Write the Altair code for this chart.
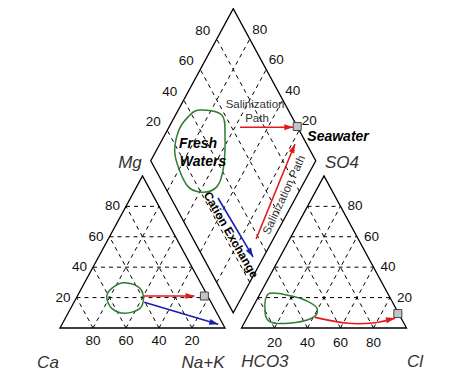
import math
import altair as alt
import pandas as pd

S = math.sqrt(3) / 2
GAP = 10

# grid levels / tick labels (percent)
levels = [20, 40, 60, 80]

# Fresh-water fields
cat_loop_nak = [18.0, 18.3, 23.5, 33.9, 40.2, 42.0, 34.5, 24.9]
cat_loop_mg = [20.6, 26.1, 29.8, 27.1, 20.6, 12.9, 9.7, 12.9]
an_loop_cl = [5.1, 19.9, 31.8, 39.8, 39.3, 26.8, 15.2, 8.9]
an_loop_so4 = [22.4, 21.0, 17.3, 12.3, 6.4, 3.1, 4.1, 10.7]
dia_loop_p = [46.5, 58.0, 53.4, 41.5, 31.4, 20.5, 13.8, 16.6, 26.3, 37.3]
dia_loop_q = [86.9, 72.0, 63.4, 53.5, 51.4, 58.8, 70.2, 87.2, 92.9, 91.7]

# Seawater
sea_nak, sea_mg = 77, 21
sea_cl, sea_so4 = 90, 9.5
sea_p, sea_q = 100, 22.5

# Arrows (start, end) in each sub-plot's own percentages
cat_red = [(40, 21), (71, 21)]
cat_blue = [(42.6, 16.9), (94.7, 2.4)]
dia_red_h = [(65.1, 56.9), (97.4, 24.6)]
dia_red_d = [(38.1, 10.4), (92.9, 18.1)]
dia_blue = [(28.5, 47.0), (30.4, 6.4)]
an_curve_cl = [41.0, 63.0, 79.2, 89.8]
an_curve_so4 = [7.0, 3.1, 3.5, 6.4]


def cat(nak, mg):
    return (nak + mg / 2, mg * S)


def an(cl, so4):
    return (100 + GAP + cl + so4 / 2, so4 * S)


def dia(p, q):
    return (100 + GAP / 2 + (p - q) / 2, GAP * S + (p + q) * S)


W, H = 458, 364
XD = [-31.52, 246.06]
YD = [-25.06, 182.23]
KX = W / (XD[1] - XD[0])
KY = H / (YD[1] - YD[0])
xs = alt.Scale(domain=XD, nice=False, zero=False)
ys = alt.Scale(domain=YD, nice=False, zero=False)


def enc(**extra):
    d = dict(x=alt.X("x:Q", scale=xs, axis=None), y=alt.Y("y:Q", scale=ys, axis=None))
    d.update(extra)
    return d


FONT = "Liberation Sans"

# ---- outlines ----
rows = []
polys = {
    "L": [cat(0, 0), cat(100, 0), cat(0, 100)],
    "R": [an(0, 0), an(100, 0), an(0, 100)],
    "D": [dia(0, 0), dia(100, 0), dia(100, 100), dia(0, 100)],
}
for k, pts in polys.items():
    for i, (x, y) in enumerate(pts):
        rows.append(dict(poly=k, i=i, x=x, y=y))
outline = alt.Chart(pd.DataFrame(rows)).mark_line(
    interpolate="linear-closed", color="black", strokeWidth=1.3, strokeJoin="miter"
).encode(**enc(detail="poly:N", order="i:Q"))

# ---- dashed grid ----
seg = []
for v in levels:
    for a, b in [
        (cat(0, v), cat(100 - v, v)),
        (cat(v, 0), cat(v, 100 - v)),
        (cat(100 - v, 0), cat(0, 100 - v)),
        (an(0, v), an(100 - v, v)),
        (an(v, 0), an(v, 100 - v)),
        (an(100 - v, 0), an(0, 100 - v)),
        (dia(v, 0), dia(v, 100)),
        (dia(0, v), dia(100, v)),
    ]:
        seg.append(dict(x=a[0], y=a[1], x2=b[0], y2=b[1]))
grid = alt.Chart(pd.DataFrame(seg)).mark_rule(
    color="black", strokeWidth=1, strokeDash=[4, 4]
).encode(**enc(x2="x2:Q", y2="y2:Q"))


# ---- tick labels ----
def lab(pts, texts, **kw):
    df = pd.DataFrame([dict(x=p[0], y=p[1], t=t) for p, t in zip(pts, texts)])
    return alt.Chart(df).mark_text(font=FONT, fontSize=13.5, color="#111", baseline="middle", **kw).encode(
        **enc(text="t:N")
    )


tl = [str(v) for v in levels]
labels = [
    lab([cat(0, v) for v in levels], tl, align="right", dx=-6),
    lab([cat(v, 0) for v in levels], [str(100 - v) for v in levels], align="center", dy=13),
    lab([an(100 - v, v) for v in levels], tl, align="left", dx=7),
    lab([an(v, 0) for v in levels], tl, align="center", dy=15),
    lab([dia(v, 100) for v in levels], tl, align="center", dx=-14, dy=-8),
    lab([dia(100, v) for v in levels], tl, align="center", dx=10, dy=-9),
]

# ---- axis names ----
names_df = pd.DataFrame(
    dict(
        x=[42.4, 170.9, -7.3, 86.7, 124.2, 215.2],
        y=[94.0, 94.0, -19.9, -19.9, -19.4, -19.4],
        t=["Mg", "SO4", "Ca", "Na+K", "HCO3", "Cl"],
    )
)
names = alt.Chart(names_df).mark_text(
    font=FONT, fontSize=17, fontStyle="italic", color="#333", baseline="middle", align="center"
).encode(**enc(text="t:N"))

# ---- fresh-water loops ----
lr = []
for i, (a, b) in enumerate(zip(cat_loop_nak, cat_loop_mg)):
    x, y = cat(a, b)
    lr.append(dict(loop="c", i=i, x=x, y=y))
for i, (a, b) in enumerate(zip(an_loop_cl, an_loop_so4)):
    x, y = an(a, b)
    lr.append(dict(loop="a", i=i, x=x, y=y))
for i, (a, b) in enumerate(zip(dia_loop_p, dia_loop_q)):
    x, y = dia(a, b)
    lr.append(dict(loop="d", i=i, x=x, y=y))
loops = alt.Chart(pd.DataFrame(lr)).mark_line(
    interpolate="cardinal-closed", color="#2e7d32", strokeWidth=1.5
).encode(**enc(detail="loop:N", order="i:Q"))


# ---- arrows ----
def head_angle(p0, p1):
    dxp = (p1[0] - p0[0]) * KX
    dyp = -(p1[1] - p0[1]) * KY
    return math.degrees(math.atan2(dxp, -dyp)) % 360


straight = [
    ("red", cat(*cat_red[0]), cat(*cat_red[1])),
    ("blue", cat(*cat_blue[0]), cat(*cat_blue[1])),
    ("red", dia(*dia_red_h[0]), dia(*dia_red_h[1])),
    ("red", dia(*dia_red_d[0]), dia(*dia_red_d[1])),
    ("blue", dia(*dia_blue[0]), dia(*dia_blue[1])),
]
shaft_df = pd.DataFrame([dict(c=c, x=a[0], y=a[1], x2=b[0], y2=b[1]) for c, a, b in straight])
COLS = alt.Scale(domain=["red", "blue"], range=["#e3191c", "#1b1fae"])
shafts = alt.Chart(shaft_df).mark_rule(strokeWidth=1.6).encode(
    **enc(x2="x2:Q", y2="y2:Q", color=alt.Color("c:N", scale=COLS, legend=None))
)
curve_pts = [an(a, b) for a, b in zip(an_curve_cl, an_curve_so4)]
curve = alt.Chart(pd.DataFrame([dict(x=p[0], y=p[1], i=i) for i, p in enumerate(curve_pts)])).mark_line(
    interpolate="cardinal", color="#e3191c", strokeWidth=1.6
).encode(**enc(order="i:Q"))

heads_rows = [dict(c=c, x=b[0], y=b[1], ang=head_angle(a, b)) for c, a, b in straight]
heads_rows.append(dict(c="red", x=curve_pts[-1][0], y=curve_pts[-1][1], ang=head_angle(curve_pts[-2], curve_pts[-1])))
heads = alt.Chart(pd.DataFrame(heads_rows)).mark_point(
    shape="M0,0L-0.8,2.4L0.8,2.4Z", filled=True, size=56, opacity=1
).encode(**enc(angle=alt.Angle("ang:Q", scale=None), color=alt.Color("c:N", scale=COLS, legend=None)))

# ---- seawater squares ----
sq_pts = [cat(sea_nak, sea_mg), an(sea_cl, sea_so4), dia(sea_p, sea_q)]
squares = alt.Chart(pd.DataFrame([dict(x=p[0], y=p[1]) for p in sq_pts])).mark_point(
    shape="square", filled=True, size=64, fill="#c4c4c4", stroke="#444", strokeWidth=1, opacity=1
).encode(**enc())

# ---- annotation texts ----
bold_it = alt.Chart(
    pd.DataFrame(dict(x=[83.6, 86.7, 168.5], y=[104.8, 94.5, 108.6], t=["Fresh", "Waters", "Seawater"]))
).mark_text(font=FONT, fontSize=14, fontStyle="italic", fontWeight="bold", color="black", baseline="middle").encode(
    **enc(text="t:N")
)
sal = alt.Chart(pd.DataFrame(dict(x=[118.2, 119.4], y=[127.0, 119.0], t=["Salinization", "Path"]))).mark_text(
    font=FONT, fontSize=11.5, color="#333", baseline="middle"
).encode(**enc(text="t:N"))
sal_rot = alt.Chart(pd.DataFrame(dict(x=[136.1], y=[75.7], t=["Salinization Path"]))).mark_text(
    font=FONT, fontSize=11.5, color="#333", baseline="middle", angle=295
).encode(**enc(text="t:N"))
cation = alt.Chart(pd.DataFrame(dict(x=[103.6], y=[53.0], t=["Cation Exchange"]))).mark_text(
    font=FONT, fontSize=12, fontWeight="bold", color="black", baseline="middle", angle=60
).encode(**enc(text="t:N"))

chart = alt.layer(
    grid, outline, *labels, names, loops, shafts, curve, heads, squares, bold_it, sal, sal_rot, cation
).properties(
    width=W, height=H, padding=0, autosize=alt.AutoSizeParams(type="none")
).configure_view(strokeWidth=0)

chart.save("out.html", embed_options={"renderer": "svg", "actions": False})
